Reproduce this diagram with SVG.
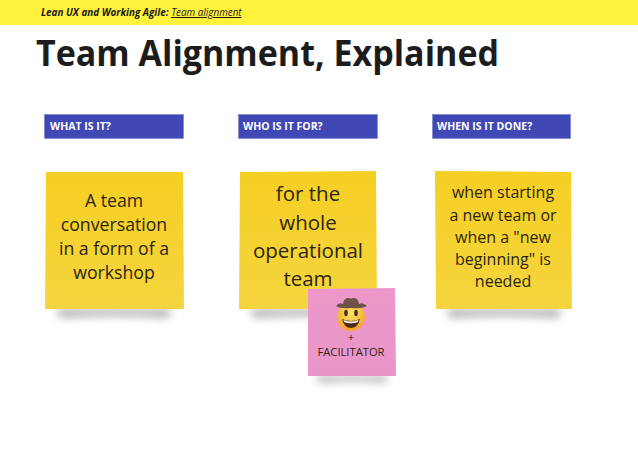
<svg xmlns="http://www.w3.org/2000/svg" width="638" height="451" viewBox="0 0 638 451">
<style>
.hd{font:700 10.5px "Open Sans",sans-serif;fill:#fff}
.bar{fill:#3f48b4;stroke:#7a80c8;stroke-width:.6}
.n{font-family:"Open Sans",sans-serif;fill:#2c2510;text-anchor:middle}
.s{font-size:17.700px}
.m{font-size:20.500px}
.l{font-size:16px}
</style>
<defs>
<linearGradient id="y" x1="0" y1="0" x2="0" y2="1"><stop offset="0" stop-color="#f6cf24"/><stop offset="1" stop-color="#f5d53f"/></linearGradient>
<linearGradient id="p" x1="0" y1="0" x2="0" y2="1"><stop offset="0" stop-color="#ee98ca"/><stop offset="1" stop-color="#e995c8"/></linearGradient>
<filter id="b" x="-30%" y="-100%" width="160%" height="300%"><feGaussianBlur stdDeviation="4"/></filter>
<radialGradient id="f" cx=".5" cy=".35" r=".7"><stop offset="0" stop-color="#ffe566"/><stop offset="1" stop-color="#f0a020"/></radialGradient>
</defs>
<rect width="638" height="451" fill="#fff"/>
<rect id="banner" width="638" height="25" fill="#fff23c"/>
<text x="41" y="16" font-family="'Open Sans',sans-serif" font-size="9.900" font-style="italic" fill="#1a1a1a"><tspan font-weight="700">Lean UX and Working Agile:</tspan> <tspan text-decoration="underline">Team alignment</tspan></text>
<text id="title" x="36" y="66" font-family="'Open Sans',sans-serif" font-weight="700" font-size="36" fill="#1c1c1c" textLength="463" lengthAdjust="spacingAndGlyphs">Team Alignment, Explained</text>
<g id="what-header"><rect class="bar" x="44.500" y="114.500" width="139" height="24"/><text class="hd" x="50" y="130">WHAT IS IT?</text></g>
<g id="who-header"><rect class="bar" x="238.500" y="114.500" width="139" height="24"/><text class="hd" x="243" y="130">WHO IS IT FOR?</text></g>
<g id="when-header"><rect class="bar" x="432.500" y="114.500" width="138" height="24"/><text class="hd" x="437" y="130">WHEN IS IT DONE?</text></g>
<g id="note-what">
<path d="M56 309H172L168 318Q115 314 60 318Z" fill="#555" opacity=".45" filter="url(#b)"/>
<polygon points="46,172 183,172 184,309 45,309" fill="url(#y)"/>
<text class="n s"><tspan x="114" y="207">A team</tspan><tspan x="114" y="231">conversation</tspan><tspan x="114" y="255">in a form of a</tspan><tspan x="114" y="279">workshop</tspan></text>
</g>
<g id="note-who">
<path d="M250 309H366L362 318Q308 314 254 318Z" fill="#555" opacity=".45" filter="url(#b)"/>
<polygon points="240,172 376,171 377,309 239,309" fill="url(#y)"/>
<text class="n m"><tspan x="308" y="201">for the</tspan><tspan x="308" y="230">whole</tspan><tspan x="308" y="258">operational</tspan><tspan x="308" y="286">team</tspan></text>
</g>
<g id="note-when">
<path d="M446 309H562L558 318Q504 314 450 318Z" fill="#555" opacity=".45" filter="url(#b)"/>
<polygon points="435,171 571,172 572,309 436,309" fill="url(#y)"/>
<text class="n l"><tspan x="503" y="198">when starting</tspan><tspan x="503" y="221">a new team or</tspan><tspan x="503" y="243">when a "new</tspan><tspan x="503" y="265">beginning" is</tspan><tspan x="503" y="287">needed</tspan></text>
</g>
<g id="note-facilitator">
<path d="M316 376H388L385 383Q352 379 320 383Z" fill="#555" opacity=".45" filter="url(#b)"/>
<polygon points="308,289 395,288 396,376 308,376" fill="url(#p)"/>
<circle cx="351" cy="317" r="14" fill="url(#f)"/>
<path d="M336 306Q339 302 343 304Q344 297 349 298Q351 299 353 298Q358 297 359 304Q363 302 367 306Q362 309 351 308Q340 309 336 306Z" fill="#6b5347"/>
<ellipse cx="346" cy="313" rx="1.800" ry="3.200" fill="#4a3020"/>
<ellipse cx="356" cy="313" rx="1.800" ry="3.200" fill="#4a3020"/>
<path d="M342 319Q351 323 360 319Q358 328 351 328Q344 328 342 319Z" fill="#5a2a18"/>
<path d="M343.500 320Q351 323 358.500 320L358 322Q351 324.500 344 322Z" fill="#fff"/>
<text class="n" x="351" y="341" font-size="11">+</text>
<text class="n" x="351" y="356" font-size="11.200">FACILITATOR</text>
</g>
<g id="connectors"/>
</svg>
